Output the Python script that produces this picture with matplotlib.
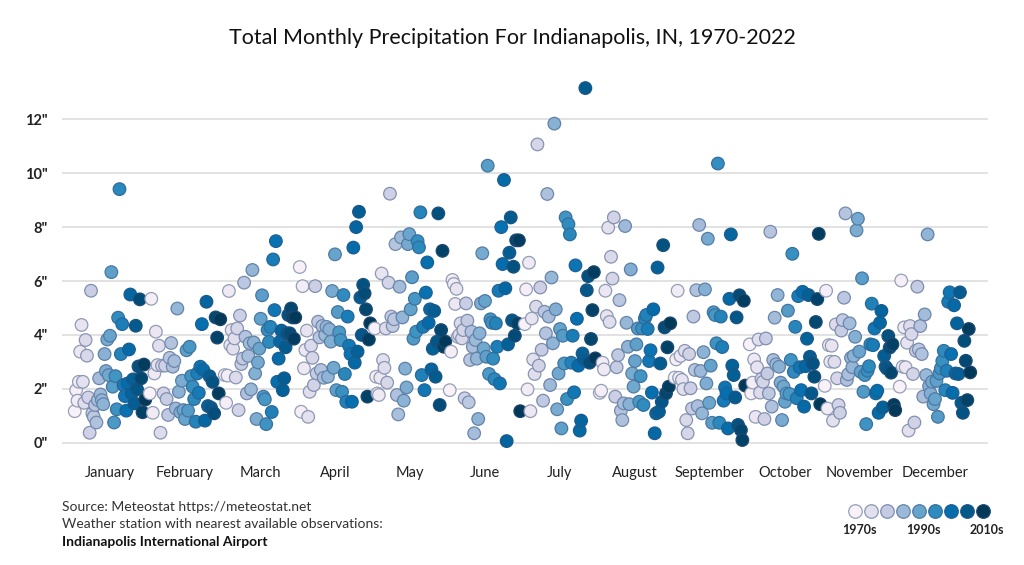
import numpy as np
import matplotlib
matplotlib.use("Agg")
import matplotlib.pyplot as plt
from matplotlib import colors as mcolors

plt.rcParams['font.family'] = ['Lato', 'DejaVu Sans']

# Monthly totals (inches), each list ordered oldest -> newest (1970 ... 2022)
months = ["January", "February", "March", "April", "May", "June",
          "July", "August", "September", "October", "November", "December"]

jan = [1.17, 1.95, 1.56, 2.26, 3.38, 4.37, 2.26, 1.48, 3.81, 3.23, 1.68, 0.37, 5.64,
       1.09, 0.96, 1.40, 0.75, 1.58, 2.39, 1.79, 1.58, 1.43, 3.29, 2.66, 3.83, 2.51,
       3.97, 6.33, 2.08, 0.75, 2.47, 1.24, 4.64, 9.41, 3.29, 4.40, 2.14, 1.73, 1.19,
       2.20, 3.46, 5.50, 1.83, 2.35, 1.46, 4.34, 1.98, 2.83, 5.32, 2.39, 1.13, 2.90, 1.60]
feb = [1.83, 5.34, 1.11, 2.57, 4.12, 2.88, 3.60, 0.37, 2.86, 1.83, 2.86, 1.62, 1.03,
       3.15, 3.70, 2.82, 3.03, 1.27, 4.98, 1.89, 1.13, 2.30, 1.21, 0.88, 3.43, 1.19,
       3.56, 2.47, 2.08, 1.62, 0.78, 2.57, 1.85, 2.82, 4.40, 2.70, 0.82, 5.23, 1.36,
       2.47, 1.30, 2.26, 1.09, 4.65, 3.90, 1.83, 4.58]
mar = [2.51, 1.48, 2.49, 5.63, 3.62, 4.18, 3.49, 3.87, 2.42, 4.24, 1.21, 4.72, 2.92,
       3.12, 5.94, 3.93, 1.83, 3.22, 3.69, 1.98, 6.41, 3.72, 2.57, 0.88, 2.98, 3.49,
       4.60, 5.47, 1.71, 1.61, 0.69, 4.19, 3.74, 4.30, 1.14, 6.80, 4.92, 7.48, 2.26,
       3.12, 3.75, 4.16, 1.95, 2.39, 3.54, 4.06, 4.74, 4.06, 4.98, 4.65, 3.86, 4.65]
apr = [6.52, 1.15, 5.81, 2.76, 3.44, 4.16, 0.96, 1.89, 3.60, 3.15, 2.14, 5.81, 2.57,
       4.49, 3.91, 2.70, 4.33, 2.41, 4.00, 4.30, 2.45, 4.21, 3.75, 5.63, 2.78, 6.99,
       1.95, 4.85, 4.10, 3.81, 1.89, 5.48, 2.55, 1.52, 4.68, 3.60, 3.29, 1.52, 7.24,
       2.97, 8.00, 3.38, 8.57, 5.39, 4.00, 5.86, 5.54, 4.95, 1.71, 3.83, 4.43]
may = [4.24, 2.45, 1.83, 1.77, 2.41, 6.28, 3.07, 2.78, 4.24, 2.23, 5.94, 9.24, 4.68,
       4.33, 4.58, 7.37, 1.77, 1.05, 5.79, 7.62, 4.65, 1.56, 2.75, 2.05, 7.37, 7.74,
       4.95, 6.14, 3.86, 5.34, 4.12, 7.48, 7.25, 8.55, 2.51, 4.30, 1.95, 5.57, 6.69,
       4.45, 4.95, 2.72, 3.49, 4.89, 2.45, 3.75, 8.51, 1.40, 4.18, 7.12, 3.56, 3.75]
jun = [1.95, 3.38, 6.04, 5.89, 5.15, 5.71, 3.93, 4.00, 4.43, 3.87, 4.18, 1.65, 5.17,
       4.53, 1.50, 3.07, 4.12, 3.56, 0.35, 3.81, 3.12, 0.88, 4.06, 5.17, 7.03, 3.50,
       5.26, 3.19, 10.28, 2.55, 4.58, 4.45, 3.12, 2.36, 4.43, 3.56, 5.64, 2.20, 8.00,
       6.63, 9.75, 5.73, 0.06, 3.65, 7.05, 8.36, 4.54, 6.53, 3.97, 7.51, 4.43, 7.51, 1.17]
jul = [4.40, 5.69, 1.98, 6.68, 1.17, 4.61, 3.09, 2.55, 5.05, 11.07, 2.86, 5.76, 3.45,
       1.56, 4.86, 4.06, 9.23, 4.68, 2.14, 6.13, 3.69, 11.84, 4.95, 1.24, 2.57, 4.22,
       0.53, 3.97, 2.94, 8.36, 1.62, 8.11, 7.73, 2.97, 3.97, 1.87, 6.58, 4.60, 2.86,
       0.45, 0.82, 3.31, 3.09, 13.16, 5.66, 6.18, 2.97, 3.85, 4.92, 6.33, 3.13]
aug = [1.85, 1.93, 2.97, 2.72, 5.64, 4.70, 7.98, 4.48, 6.90, 6.09, 8.36, 1.71, 2.80,
       3.25, 5.29, 1.19, 0.84, 1.46, 8.04, 4.45, 3.56, 1.43, 6.43, 2.57, 2.08, 3.03,
       3.65, 4.24, 1.52, 2.47, 4.24, 1.40, 4.61, 4.74, 4.22, 3.03, 3.43, 1.86, 4.95,
       0.35, 1.09, 6.50, 1.15, 2.94, 1.52, 7.33, 4.28, 1.83, 3.54, 2.08, 4.43]
sep = [2.42, 3.09, 5.64, 2.41, 3.22, 2.33, 1.99, 3.41, 0.84, 0.35, 3.29, 2.02, 1.27,
       4.68, 2.70, 5.66, 1.36, 8.08, 2.66, 1.09, 3.36, 5.69, 2.20, 7.57, 1.48, 2.86,
       0.74, 4.84, 4.74, 3.69, 10.36, 0.74, 4.68, 3.55, 1.56, 2.05, 1.83, 0.53, 5.34,
       7.73, 2.86, 2.51, 1.68, 4.65, 0.66, 5.47, 0.47, 0.10, 5.27, 2.12]
octo = [3.65, 1.83, 2.23, 3.09, 0.96, 2.80, 3.83, 1.86, 2.36, 2.26, 0.88, 3.87, 2.57,
        1.83, 7.83, 1.34, 3.07, 4.64, 2.91, 5.48, 2.82, 2.23, 0.84, 2.08, 1.52, 1.83,
        4.90, 1.81, 3.07, 7.01, 2.63, 4.30, 1.65, 5.44, 2.80, 1.95, 5.60, 1.34, 2.84,
        3.86, 5.48, 3.19, 1.83, 2.94, 2.45, 4.48, 5.33, 7.75, 1.43]
nov = [2.11, 5.64, 1.27, 3.62, 3.01, 3.60, 0.82, 3.00, 4.39, 2.39, 1.40, 1.11, 4.16,
       4.55, 5.38, 8.51, 2.33, 2.54, 4.43, 3.15, 2.80, 3.22, 3.93, 7.88, 8.31, 3.38,
       2.63, 6.10, 1.89, 2.51, 0.69, 2.67, 2.84, 3.65, 5.16, 3.62, 4.24, 1.83, 1.93,
       1.11, 4.45, 4.89, 1.31, 3.22, 2.82, 2.75, 3.96, 3.53, 2.60, 3.65, 1.40, 1.21]
dec = [2.08, 6.02, 2.82, 4.28, 2.80, 3.71, 0.45, 4.33, 4.03, 2.55, 0.75, 3.41, 5.79,
       3.46, 4.33, 3.29, 1.71, 4.76, 2.51, 7.73, 2.10, 1.83, 2.26, 1.43, 1.62, 2.29,
       0.96, 2.57, 2.76, 3.03, 3.41, 1.95, 2.67, 5.23, 5.58, 3.29, 1.85, 5.10, 2.57,
       4.43, 2.55, 5.58, 1.48, 1.11, 3.78, 3.04, 1.58, 4.22, 2.61]

monthly = [jan, feb, mar, apr, may, jun, jul, aug, sep, octo, nov, dec]

legend_labels = ["1970s", "1990s", "2010s"]
y_ticks = [0, 2, 4, 6, 8, 10, 12]

cmap = plt.get_cmap("PuBu")
edge_base = np.array(mcolors.to_rgb("#34507a"))


def year_color(t):
    c = np.array(cmap(0.05 + 0.95 * t)[:3])
    return c, (c + edge_base) / 2


fig = plt.figure(figsize=(10.24, 5.65), dpi=100)
fig.patch.set_facecolor("white")
ax = fig.add_axes([62 / 1024, 110 / 565, 926 / 1024, 375 / 565])

spread = 0.47
for m, vals in enumerate(monthly):
    n = len(vals)
    t = np.linspace(0, 1, n)
    xs = m + (t - 0.5) * 2 * spread
    fc, ec = zip(*[year_color(v) for v in t])
    ax.scatter(xs, vals, s=82, c=list(fc), edgecolors=list(ec),
               linewidths=0.9, zorder=3)

ax.set_xlim(-0.64, 11.707)
ax.set_ylim(-0.456, 13.46)
ax.set_yticks(y_ticks)
ax.set_yticklabels([f'{v}"' for v in y_ticks], fontsize=10.5,
                   fontweight="bold", color="#222222")
ax.set_xticks(range(12))
ax.set_xticklabels(months, fontsize=10.5, color="#222222")
ax.tick_params(axis="both", length=0)
ax.tick_params(axis="x", pad=8)
ax.tick_params(axis="y", pad=10)
ax.grid(axis="y", color="#dadada", linewidth=1.1, zorder=0)
ax.set_axisbelow(True)
for s in ax.spines.values():
    s.set_visible(False)

fig.text(0.5, 1 - 38 / 565, "Total Monthly Precipitation For Indianapolis, IN, 1970-2022",
         ha="center", va="center", fontsize=15.5, color="#111111")

fig.text(62 / 1024, 1 - 507 / 565, "Source: Meteostat https://meteostat.net",
         ha="left", va="center", fontsize=10, color="#333333")
fig.text(62 / 1024, 1 - 524 / 565, "Weather station with nearest available observations:",
         ha="left", va="center", fontsize=10, color="#333333")
fig.text(62 / 1024, 1 - 542 / 565, "Indianapolis International Airport",
         ha="left", va="center", fontsize=10, fontweight="bold", color="#111111")

# colour legend: 9 steps from lightest to darkest
lax = fig.add_axes([0, 0, 1, 1], facecolor="none")
lax.set_xlim(0, 1024)
lax.set_ylim(565, 0)
lax.axis("off")
steps = np.linspace(0, 1, 9)
lx = 855 + 16 * np.arange(9)
for x, tt in zip(lx, steps):
    fc, ec = year_color(tt)
    lax.scatter([x], [511], s=95, color=fc, edgecolors=[ec], linewidths=0.9)
for lbl, x in zip(legend_labels, [lx[0], lx[4], lx[8]]):
    lax.text(x + 4, 530, lbl, ha="center", va="center", fontsize=9,
             fontweight="bold", color="#222222")

fig.savefig("out.png", dpi=100, facecolor="white")
